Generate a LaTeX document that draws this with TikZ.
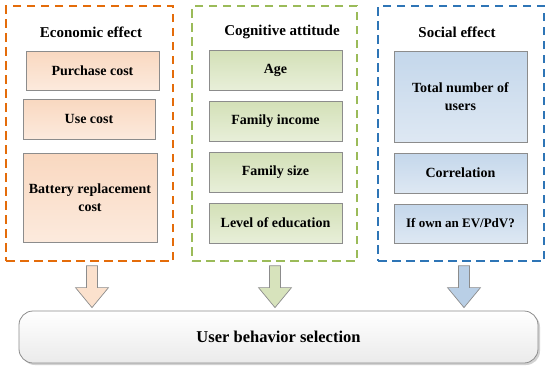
\documentclass[tikz,border=0pt]{standalone}
\usepackage{fontspec}
\setmainfont{Liberation Serif}
\usetikzlibrary{calc,shadows}
\definecolor{orD}{HTML}{E46C0A}
\definecolor{grD}{HTML}{9BBB59}
\definecolor{blD}{HTML}{2E75B6}
\definecolor{orT}{HTML}{F9D8C0}
\definecolor{orB}{HTML}{FCEADD}
\definecolor{grT}{HTML}{D3E0B7}
\definecolor{grB}{HTML}{E8EFD9}
\definecolor{blT}{HTML}{C4D7EB}
\definecolor{blB}{HTML}{DEE8F3}
\definecolor{orA}{HTML}{FBE1CD}
\definecolor{grA}{HTML}{D7E3BC}
\definecolor{blA}{HTML}{B9CFE6}
\definecolor{edge}{HTML}{8C8C8C}
\tikzset{
  group/.style={draw, dashed, dash pattern=on 8.5pt off 5.5pt, line width=1.6pt, inner sep=0pt},
  gtitle/.style={font=\fontsize{15}{18}\selectfont\bfseries, inner sep=0pt},
  item/.style={draw=edge, line width=0.7pt, inner sep=2pt, align=center,
    font=\fontsize{14}{18}\selectfont\bfseries},
  oitem/.style={item, top color=orT, bottom color=orB},
  gitem/.style={item, top color=grT, bottom color=grB},
  bitem/.style={item, top color=blT, bottom color=blB},
  blockarr/.style={draw=edge, line width=0.7pt, line join=miter},
}
\newcommand{\blockarrow}[3]{%
  \draw[blockarr, fill=#3] let \p1=($(#1.south)+(#2pt,0)$), \p2=(ub.north) in
    (\x1-5.5pt,\y1-4pt) -- (\x1-5.5pt,\y2+23pt) -- (\x1-16.5pt,\y2+23pt) --
    (\x1,\y2+3pt) -- (\x1+16.5pt,\y2+23pt) -- (\x1+5.5pt,\y2+23pt) --
    (\x1+5.5pt,\y1-4pt) -- cycle;}
\begin{document}
\begin{tikzpicture}[x=1pt,y=-1pt]
\useasboundingbox (0,0) rectangle (550,370);
% group frames
\node[group, draw=orD, minimum width=167pt, minimum height=255pt] (eco) at (89.5,133.5) {};
\node[group, draw=grD, minimum width=165pt, minimum height=255pt] (cog) at (274.5,133.5) {};
\node[group, draw=blD, minimum width=166pt, minimum height=255pt] (soc) at (461,133.5) {};
% titles
\node[gtitle] (ecot) at (91,32) {Economic effect};
\node[gtitle] (cogt) at (282,32) {Cognitive attitude};
\node[gtitle] (soct) at (457,32) {Social effect};
% economic items
\node[oitem, minimum width=133pt, minimum height=39pt] (pc) at (92.5,70.5) {Purchase cost};
\node[oitem, minimum width=132pt, minimum height=40pt] (uc) at (89,119) {Use cost};
\node[oitem, minimum width=134pt, minimum height=89pt] (brc) at (90,197.5) {Battery replacement\\cost};
% cognitive items
\node[gitem, minimum width=133pt, minimum height=40pt] (age) at (275.5,70) {Age};
\node[gitem, minimum width=133pt, minimum height=40pt] (fi) at (275.5,121) {Family income};
\node[gitem, minimum width=133pt, minimum height=40pt] (fs) at (275.5,172) {Family size};
\node[gitem, minimum width=133pt, minimum height=40pt] (le) at (275.5,223) {Level of education};
% social items
\node[bitem, minimum width=133pt, minimum height=91pt] (tn) at (460.5,96.5) {Total number of\\users};
\node[bitem, minimum width=133pt, minimum height=40pt] (co) at (460.5,173) {Correlation};
\node[bitem, minimum width=133pt, minimum height=39pt, font=\fontsize{13}{16}\selectfont\bfseries] (ev) at (460.5,223.5) {If own an EV/PdV?};
% bottom box
\node[draw=edge, line width=0.8pt, rounded corners=14pt, top color=white, bottom color=black!8,
  drop shadow={shadow xshift=2pt, shadow yshift=-2pt, fill=black!35},
  minimum width=519pt, minimum height=52pt, font=\fontsize{16.5}{20}\selectfont\bfseries]
  (ub) at (278.5,337) {User behavior selection};
% block arrows
\blockarrow{eco}{2.5}{orA}
\blockarrow{cog}{0.5}{grA}
\blockarrow{soc}{3}{blA}
\end{tikzpicture}
\end{document}
